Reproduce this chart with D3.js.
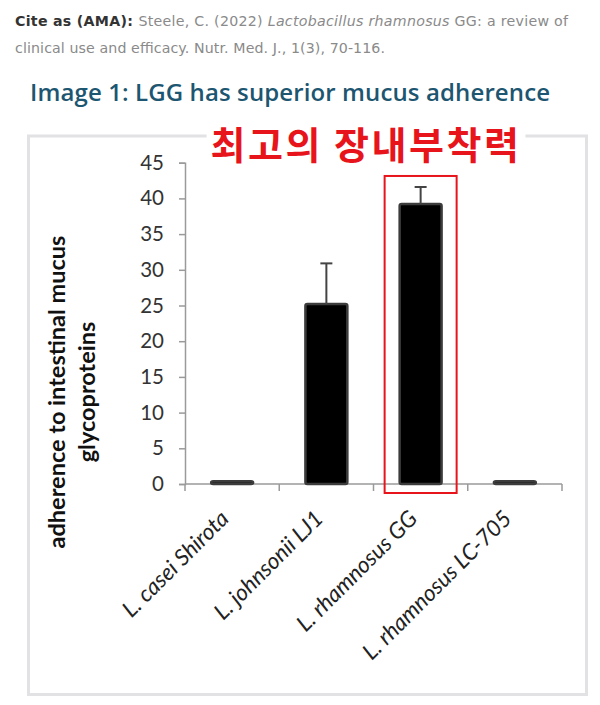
<!DOCTYPE html>
<html>
<head>
<meta charset="utf-8">
<script src="https://cdn.jsdelivr.net/npm/d3@7"></script>
<style>
  body { margin: 0; background: #fff; }
  svg { display: block; }
</style>
</head>
<body>
<svg id="chart" width="600" height="705"></svg>
<script>
// values
const strains = ['L. casei Shirota', 'L. johnsonii LJ1', 'L. rhamnosus GG', 'L. rhamnosus LC-705']
const adherence = [0.4, 25.2, 39.2, 0.4]
const errorUp = [0, 5.7, 2.4, 0]
const yTicks = [0, 5, 10, 15, 20, 25, 30, 35, 40, 45]
const highlight = 'L. rhamnosus GG'

const citeBold = 'Cite as (AMA):'
const citeLine2 = 'clinical use and efficacy. Nutr. Med. J., 1(3), 70-116.'
const titleText = 'Image 1: LGG has superior mucus adherence'
const koreanNote = '최고의 장내부착력'
const yLabel = ['adherence to intestinal mucus', 'glycoproteins']

const svg = d3.select('#chart')
const chartFont = 'Lato, "Open Sans", sans-serif'
const headFont = '"DejaVu Sans", sans-serif'

// citation header
const cite = svg.append('text')
  .attr('x', 15)
  .attr('y', 26)
  .attr('font-family', headFont)
  .attr('font-size', 14.2)
  .attr('fill', '#8a8a8a')
  .attr('textLength', 553)
  .attr('lengthAdjust', 'spacing')
cite.append('tspan').attr('font-weight', 700).attr('fill', '#333').text(citeBold + ' ')
cite.append('tspan').text('Steele, C. (2022) ')
cite.append('tspan').attr('font-style', 'italic').text('Lactobacillus rhamnosus')
cite.append('tspan').text(' GG: a review of')

svg.append('text')
  .attr('x', 15)
  .attr('y', 52.5)
  .attr('font-family', headFont)
  .attr('font-size', 14.2)
  .attr('fill', '#8a8a8a')
  .attr('textLength', 370)
  .attr('lengthAdjust', 'spacing')
  .text(citeLine2)

svg.append('text')
  .attr('x', 30)
  .attr('y', 101)
  .attr('font-family', '"Open Sans", sans-serif')
  .attr('font-weight', 600)
  .attr('font-size', 24)
  .attr('fill', '#1d5670')
  .attr('textLength', 520)
  .attr('lengthAdjust', 'spacing')
  .text(titleText)

// figure frame
svg.append('rect')
  .attr('x', 28.5)
  .attr('y', 136)
  .attr('width', 558)
  .attr('height', 558.5)
  .attr('fill', 'none')
  .attr('stroke', '#e2e2e5')
  .attr('stroke-width', 3)

// scales
const x = d3.scaleBand()
  .domain(strains)
  .range([185, 562])
  .padding(0)

const y = d3.scaleLinear()
  .domain([0, 45])
  .range([484, 162.7])

const g = svg.append('g')

// y axis
const yAxis = d3.axisLeft(y)
  .tickValues(yTicks)
  .tickSize(6)
  .tickPadding(15)

const yG = g.append('g')
  .attr('transform', 'translate(185,0)')
  .call(yAxis)
yG.select('.domain').attr('stroke', '#9a9a9a').attr('stroke-width', 1.5)
yG.selectAll('.tick line').attr('stroke', '#9a9a9a').attr('stroke-width', 1.5)
yG.selectAll('.tick text')
  .attr('font-family', chartFont)
  .attr('font-size', 20.5)
  .attr('fill', '#333')

// x axis line with ticks at band edges
const xEdges = strains.map(d => x(d)).concat([x.range()[1]])
g.append('line')
  .attr('x1', x.range()[0])
  .attr('x2', x.range()[1])
  .attr('y1', y(0))
  .attr('y2', y(0))
  .attr('stroke', '#9a9a9a')
  .attr('stroke-width', 1.5)
g.selectAll('.xtick')
  .data(xEdges)
  .enter()
  .append('line')
  .attr('class', 'xtick')
  .attr('x1', d => d)
  .attr('x2', d => d)
  .attr('y1', y(0))
  .attr('y2', y(0) + 7)
  .attr('stroke', '#9a9a9a')
  .attr('stroke-width', 1.5)

// bars
const barW = x.bandwidth() * 0.445
const bars = strains.map((d, i) => ({ name: d, value: adherence[i], err: errorUp[i] }))

g.selectAll('.bar')
  .data(bars)
  .enter()
  .append('rect')
  .attr('class', 'bar')
  .attr('x', d => x(d.name) + x.bandwidth() / 2 - barW / 2)
  .attr('y', d => y(d.value))
  .attr('width', barW)
  .attr('height', d => y(0) - y(d.value))
  .attr('rx', 2)
  .attr('fill', '#000')
  .attr('stroke', '#3c3c3c')
  .attr('stroke-width', 2.5)

// error bars
const errG = g.selectAll('.err')
  .data(bars.filter(d => d.err > 0))
  .enter()
  .append('g')
  .attr('class', 'err')
  .attr('stroke', '#444')
  .attr('stroke-width', 2)
errG.append('line')
  .attr('x1', d => x(d.name) + x.bandwidth() / 2)
  .attr('x2', d => x(d.name) + x.bandwidth() / 2)
  .attr('y1', d => y(d.value))
  .attr('y2', d => y(d.value + d.err))
errG.append('line')
  .attr('x1', d => x(d.name) + x.bandwidth() / 2 - 6)
  .attr('x2', d => x(d.name) + x.bandwidth() / 2 + 6)
  .attr('y1', d => y(d.value + d.err))
  .attr('y2', d => y(d.value + d.err))

// category labels
g.selectAll('.xlabel')
  .data(strains)
  .enter()
  .append('text')
  .attr('class', 'xlabel')
  .attr('transform', d => `translate(${x(d) + x.bandwidth() / 2 - 2},${y(0) + 36}) rotate(-45)`)
  .attr('text-anchor', 'end')
  .attr('font-family', chartFont)
  .attr('font-style', 'italic')
  .attr('font-size', 22.5)
  .attr('fill', '#222')
  .text(d => d)

// y axis title
const yTitle = g.append('text')
  .attr('transform', 'translate(65,392) rotate(-90)')
  .attr('text-anchor', 'middle')
  .attr('font-family', chartFont)
  .attr('font-weight', 700)
  .attr('font-size', 23.5)
  .attr('fill', '#111')
yTitle.selectAll('tspan')
  .data(yLabel)
  .enter()
  .append('tspan')
  .attr('x', 0)
  .attr('dy', (d, i) => i === 0 ? 0 : 29.5)
  .text(d => d)

// highlight box around LGG
const hb = bars.find(d => d.name === highlight)
const hcx = x(hb.name) + x.bandwidth() / 2
svg.append('rect')
  .attr('x', hcx - 36)
  .attr('y', y(hb.value + hb.err) - 11)
  .attr('width', 72)
  .attr('height', y(0) + 9 - (y(hb.value + hb.err) - 11))
  .attr('fill', 'none')
  .attr('stroke', '#e8141b')
  .attr('stroke-width', 2)

// korean annotation with white backing over the frame
const note = svg.append('text')
  .attr('x', 366)
  .attr('y', 159)
  .attr('text-anchor', 'middle')
  .attr('font-family', '"Noto Sans CJK KR", sans-serif')
  .attr('font-weight', 700)
  .attr('font-size', 38)
  .attr('letter-spacing', 2.5)
  .attr('fill', '#e8141b')
  .text(koreanNote)
const nb = note.node().getBBox()
svg.insert('rect', () => note.node())
  .attr('x', nb.x - 4)
  .attr('y', nb.y + 6)
  .attr('width', nb.width + 8)
  .attr('height', nb.height - 10)
  .attr('fill', '#fff')
</script>
</body>
</html>
